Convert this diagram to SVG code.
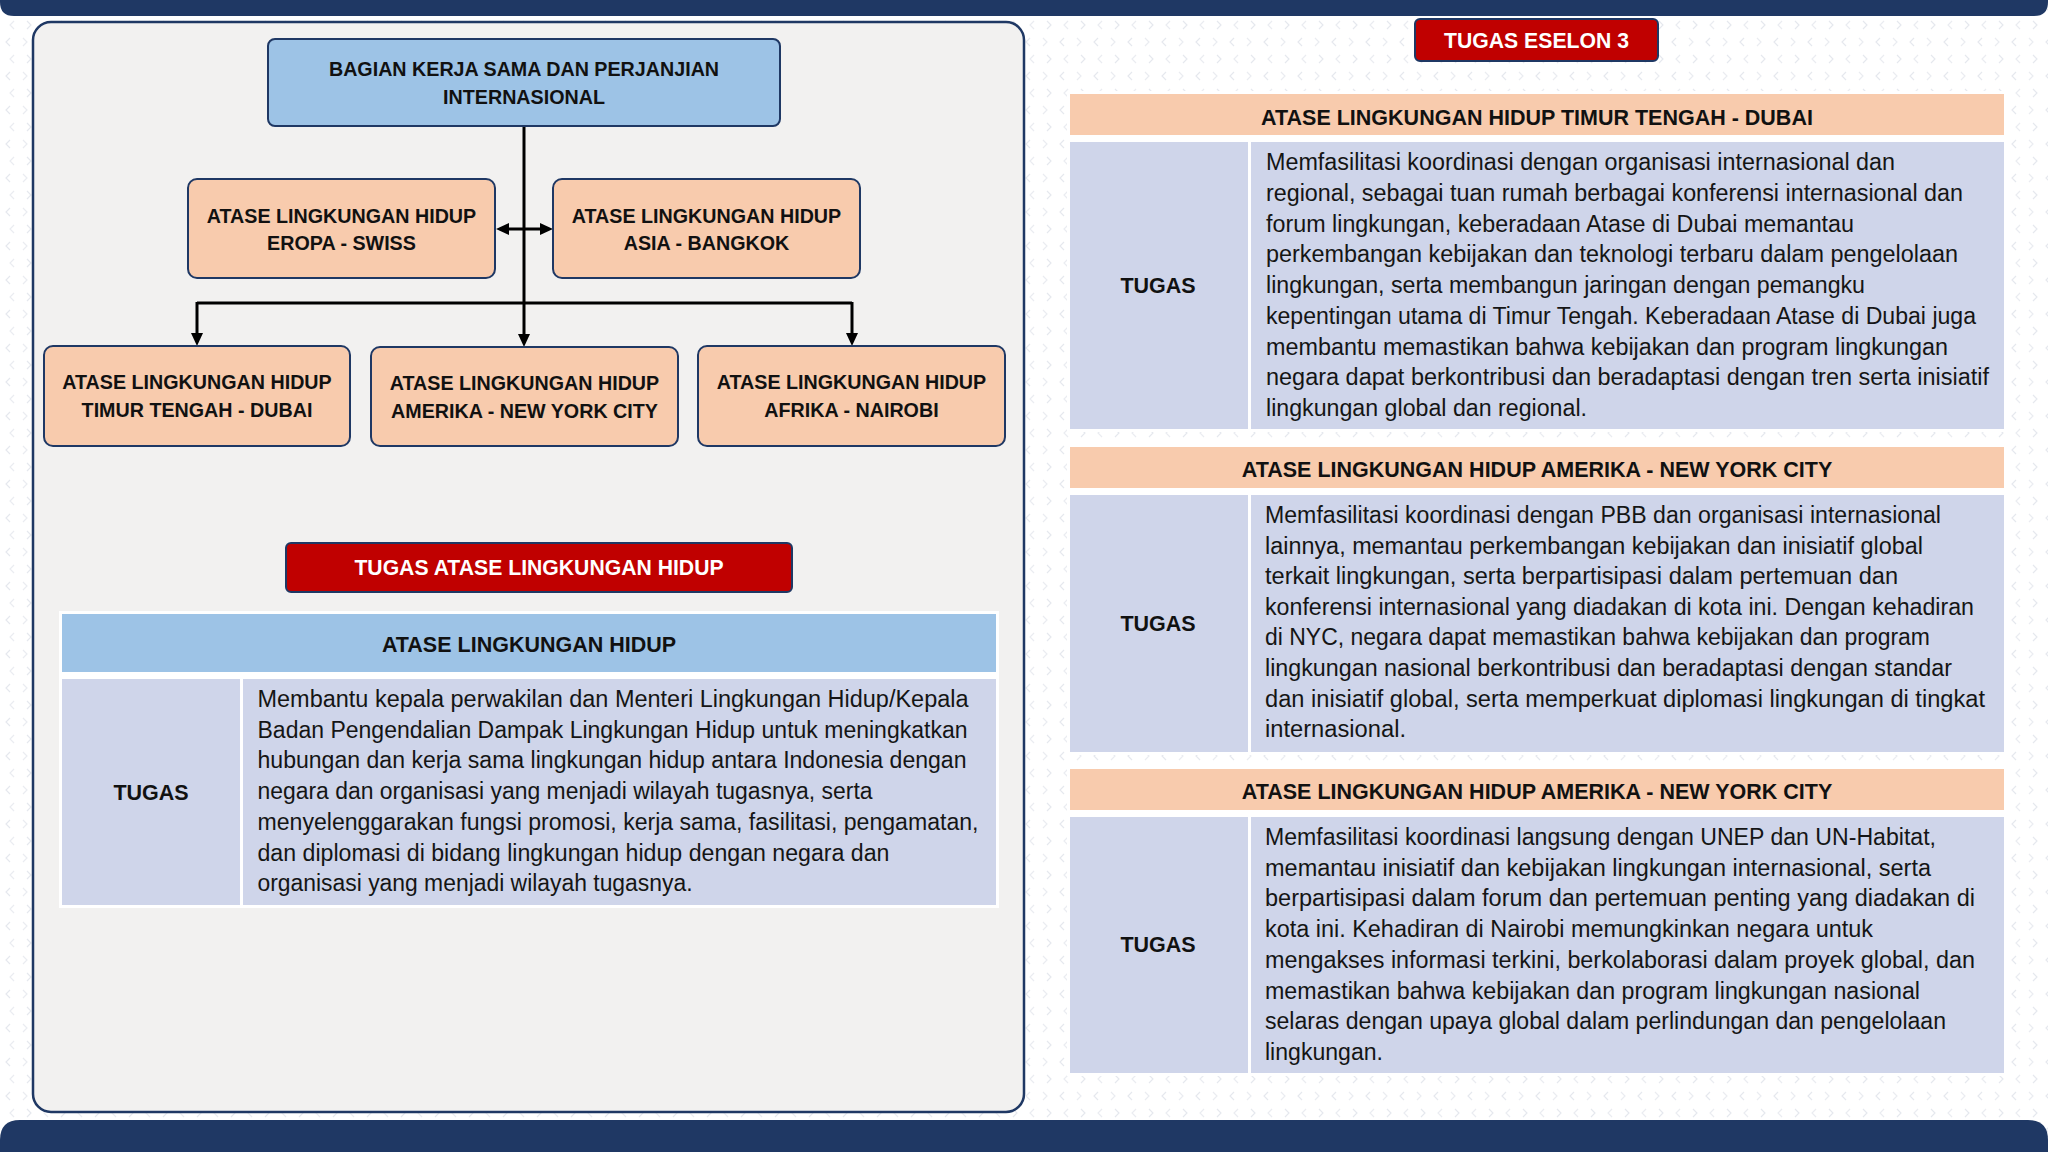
<svg xmlns="http://www.w3.org/2000/svg" width="2048" height="1152" viewBox="0 0 2048 1152">
<defs>
<pattern id="bgp" x="0" y="0" width="34" height="34" patternUnits="userSpaceOnUse">
<rect width="34" height="34" fill="#FFFFFF"/>
<path d="M10,4 L6,8 L10,12 M27,21 L31,25 L27,29" fill="none" stroke="#E5E8EE" stroke-width="1.1"/>
<path d="M23,4 L27,8 L23,12 M14,21 L10,25 L14,29" fill="none" stroke="#EAECF1" stroke-width="1.1"/>
</pattern>
<marker id="ah" viewBox="0 0 13 12" refX="0" refY="6" markerWidth="13" markerHeight="12" markerUnits="userSpaceOnUse" orient="auto-start-reverse">
<path d="M0,0 L13,6 L0,12 Z" fill="#000000"/>
</marker>
</defs>
<style>
.node{fill:#F8CBAD;stroke:#1F3864;stroke-width:2}
.top{fill:#9DC3E6;stroke:#1F3864;stroke-width:2}
.nt{font-family:"Liberation Sans",Arial,sans-serif;font-weight:bold;font-size:19.7px;fill:#111111;text-anchor:middle}
.btn{fill:#C00000;stroke:#1F3864;stroke-width:2}
.bt{font-family:"Liberation Sans",Arial,sans-serif;font-weight:bold;font-size:21.2px;fill:#FFFFFF;text-anchor:middle}
.hd{font-family:"Liberation Sans",Arial,sans-serif;font-weight:bold;font-size:21.5px;fill:#111111;text-anchor:middle}
.body{font-family:"Liberation Sans",Arial,sans-serif;font-size:23px;fill:#151515}
.peach{fill:#F8CBAD}
.blue{fill:#9DC3E6}
.cell{fill:#CFD5EA}
.conn{stroke:#000000;stroke-width:3;fill:none}
.navy{fill:#1F3864}
</style>

<rect width="2048" height="1152" fill="url(#bgp)"/>
<path class="navy" d="M0,0 H2048 V2 Q2048,16 2034,16 H14 Q0,16 0,2 Z"/>
<path class="navy" d="M0,1152 V1140 Q0,1120 20,1120 H2028 Q2048,1120 2048,1140 V1152 Z"/>

<rect id="left-panel" x="33" y="22" width="991" height="1090" rx="18" fill="#F2F1F0" stroke="#1F3864" stroke-width="2.5"/>

<g id="connectors">
<line class="conn" x1="524" y1="126" x2="524" y2="334" marker-end="url(#ah)"/>
<line class="conn" x1="197" y1="303" x2="852" y2="303"/>
<line class="conn" x1="197" y1="302" x2="197" y2="333" marker-end="url(#ah)"/>
<line class="conn" x1="852" y1="302" x2="852" y2="333" marker-end="url(#ah)"/>
<line class="conn" x1="509" y1="229" x2="540" y2="229" marker-start="url(#ah)" marker-end="url(#ah)"/>
</g>

<g id="node-bagian">
<rect class="top" x="268" y="39" width="512" height="87" rx="7"/>
<text class="nt" x="524" y="76">BAGIAN KERJA SAMA DAN PERJANJIAN</text>
<text class="nt" x="524" y="104">INTERNASIONAL</text>
</g>
<g id="node-eropa">
<rect class="node" x="188" y="179" width="307" height="99" rx="9"/>
<text class="nt" x="341.5" y="223">ATASE LINGKUNGAN HIDUP</text>
<text class="nt" x="341.5" y="250">EROPA - SWISS</text>
</g>
<g id="node-asia">
<rect class="node" x="553" y="179" width="307" height="99" rx="9"/>
<text class="nt" x="706.5" y="223">ATASE LINGKUNGAN HIDUP</text>
<text class="nt" x="706.5" y="250">ASIA - BANGKOK</text>
</g>
<g id="node-dubai">
<rect class="node" x="44" y="346" width="306" height="100" rx="9"/>
<text class="nt" x="197" y="389">ATASE LINGKUNGAN HIDUP</text>
<text class="nt" x="197" y="417">TIMUR TENGAH - DUBAI</text>
</g>
<g id="node-nyc">
<rect class="node" x="371" y="347" width="307" height="99" rx="9"/>
<text class="nt" x="524.5" y="390">ATASE LINGKUNGAN HIDUP</text>
<text class="nt" x="524.5" y="418">AMERIKA - NEW YORK CITY</text>
</g>
<g id="node-nairobi">
<rect class="node" x="698" y="346" width="307" height="100" rx="9"/>
<text class="nt" x="851.5" y="389">ATASE LINGKUNGAN HIDUP</text>
<text class="nt" x="851.5" y="417">AFRIKA - NAIROBI</text>
</g>

<g id="btn-tugas-atase">
<rect class="btn" x="286" y="543" width="506" height="49" rx="5"/>
<text class="bt" x="539" y="575">TUGAS ATASE LINGKUNGAN HIDUP</text>
</g>

<g id="table-atase">
<rect x="59" y="611" width="940" height="297" fill="#FFFFFF"/>
<rect class="blue" x="62" y="614" width="934" height="58"/>
<text class="hd" x="529" y="651.5">ATASE LINGKUNGAN HIDUP</text>
<rect class="cell" x="62" y="679" width="178" height="226"/>
<rect class="cell" x="243" y="679" width="753" height="226"/>
<text class="hd" x="151" y="799.5">TUGAS</text>
<text class="body" x="257.5" y="707" textLength="711" lengthAdjust="spacingAndGlyphs">Membantu kepala perwakilan dan Menteri Lingkungan Hidup/Kepala</text>
<text class="body" x="257.5" y="737.7" textLength="710" lengthAdjust="spacingAndGlyphs">Badan Pengendalian Dampak Lingkungan Hidup untuk meningkatkan</text>
<text class="body" x="257.5" y="768.4" textLength="709" lengthAdjust="spacingAndGlyphs">hubungan dan kerja sama lingkungan hidup antara Indonesia dengan</text>
<text class="body" x="257.5" y="799.1" textLength="615" lengthAdjust="spacingAndGlyphs">negara dan organisasi yang menjadi wilayah tugasnya, serta</text>
<text class="body" x="257.5" y="829.8" textLength="721" lengthAdjust="spacingAndGlyphs">menyelenggarakan fungsi promosi, kerja sama, fasilitasi, pengamatan,</text>
<text class="body" x="257.5" y="860.5" textLength="632" lengthAdjust="spacingAndGlyphs">dan diplomasi di bidang lingkungan hidup dengan negara dan</text>
<text class="body" x="257.5" y="891.2" textLength="435" lengthAdjust="spacingAndGlyphs">organisasi yang menjadi wilayah tugasnya.</text>
</g>

<g id="btn-eselon">
<rect class="btn" x="1415" y="19" width="243" height="42" rx="5"/>
<text class="bt" x="1536.5" y="47.5">TUGAS ESELON 3</text>
</g>

<g id="table-dubai">
<rect x="1067" y="91" width="940" height="341" fill="#FFFFFF"/>
<rect class="peach" x="1070" y="94" width="934" height="41"/>
<text class="hd" x="1537" y="124.5">ATASE LINGKUNGAN HIDUP TIMUR TENGAH - DUBAI</text>
<rect class="cell" x="1070" y="142" width="178" height="287"/>
<rect class="cell" x="1251" y="142" width="753" height="287"/>
<text class="hd" x="1158" y="293">TUGAS</text>
<text class="body" x="1266" y="170" textLength="629" lengthAdjust="spacingAndGlyphs">Memfasilitasi koordinasi dengan organisasi internasional dan</text>
<text class="body" x="1266" y="200.75" textLength="697" lengthAdjust="spacingAndGlyphs">regional, sebagai tuan rumah berbagai konferensi internasional dan</text>
<text class="body" x="1266" y="231.5" textLength="588" lengthAdjust="spacingAndGlyphs">forum lingkungan, keberadaan Atase di Dubai memantau</text>
<text class="body" x="1266" y="262.25" textLength="692" lengthAdjust="spacingAndGlyphs">perkembangan kebijakan dan teknologi terbaru dalam pengelolaan</text>
<text class="body" x="1266" y="293" textLength="599" lengthAdjust="spacingAndGlyphs">lingkungan, serta membangun jaringan dengan pemangku</text>
<text class="body" x="1266" y="323.75" textLength="710" lengthAdjust="spacingAndGlyphs">kepentingan utama di Timur Tengah. Keberadaan Atase di Dubai juga</text>
<text class="body" x="1266" y="354.5" textLength="682" lengthAdjust="spacingAndGlyphs">membantu memastikan bahwa kebijakan dan program lingkungan</text>
<text class="body" x="1266" y="385.25" textLength="723" lengthAdjust="spacingAndGlyphs">negara dapat berkontribusi dan beradaptasi dengan tren serta inisiatif</text>
<text class="body" x="1266" y="416" textLength="321" lengthAdjust="spacingAndGlyphs">lingkungan global dan regional.</text>
</g>

<g id="table-nyc">
<rect x="1067" y="444" width="940" height="311" fill="#FFFFFF"/>
<rect class="peach" x="1070" y="447" width="934" height="41"/>
<text class="hd" x="1537" y="476.5">ATASE LINGKUNGAN HIDUP AMERIKA - NEW YORK CITY</text>
<rect class="cell" x="1070" y="495" width="178" height="257"/>
<rect class="cell" x="1251" y="495" width="753" height="257"/>
<text class="hd" x="1158" y="630.5">TUGAS</text>
<text class="body" x="1265" y="523" textLength="676" lengthAdjust="spacingAndGlyphs">Memfasilitasi koordinasi dengan PBB dan organisasi internasional</text>
<text class="body" x="1265" y="553.6" textLength="658" lengthAdjust="spacingAndGlyphs">lainnya, memantau perkembangan kebijakan dan inisiatif global</text>
<text class="body" x="1265" y="584.2" textLength="633" lengthAdjust="spacingAndGlyphs">terkait lingkungan, serta berpartisipasi dalam pertemuan dan</text>
<text class="body" x="1265" y="614.8" textLength="709" lengthAdjust="spacingAndGlyphs">konferensi internasional yang diadakan di kota ini. Dengan kehadiran</text>
<text class="body" x="1265" y="645.4" textLength="665" lengthAdjust="spacingAndGlyphs">di NYC, negara dapat memastikan bahwa kebijakan dan program</text>
<text class="body" x="1265" y="676" textLength="687" lengthAdjust="spacingAndGlyphs">lingkungan nasional berkontribusi dan beradaptasi dengan standar</text>
<text class="body" x="1265" y="706.6" textLength="720" lengthAdjust="spacingAndGlyphs">dan inisiatif global, serta memperkuat diplomasi lingkungan di tingkat</text>
<text class="body" x="1265" y="737.2" textLength="141" lengthAdjust="spacingAndGlyphs">internasional.</text>
</g>

<g id="table-nairobi">
<rect x="1067" y="766" width="940" height="310" fill="#FFFFFF"/>
<rect class="peach" x="1070" y="769" width="934" height="41"/>
<text class="hd" x="1537" y="798.5">ATASE LINGKUNGAN HIDUP AMERIKA - NEW YORK CITY</text>
<rect class="cell" x="1070" y="817" width="178" height="256"/>
<rect class="cell" x="1251" y="817" width="753" height="256"/>
<text class="hd" x="1158" y="951.5">TUGAS</text>
<text class="body" x="1265" y="845" textLength="671" lengthAdjust="spacingAndGlyphs">Memfasilitasi koordinasi langsung dengan UNEP dan UN-Habitat,</text>
<text class="body" x="1265" y="875.7" textLength="666" lengthAdjust="spacingAndGlyphs">memantau inisiatif dan kebijakan lingkungan internasional, serta</text>
<text class="body" x="1265" y="906.4" textLength="710" lengthAdjust="spacingAndGlyphs">berpartisipasi dalam forum dan pertemuan penting yang diadakan di</text>
<text class="body" x="1265" y="937.1" textLength="608" lengthAdjust="spacingAndGlyphs">kota ini. Kehadiran di Nairobi memungkinkan negara untuk</text>
<text class="body" x="1265" y="967.8" textLength="710" lengthAdjust="spacingAndGlyphs">mengakses informasi terkini, berkolaborasi dalam proyek global, dan</text>
<text class="body" x="1265" y="998.5" textLength="655" lengthAdjust="spacingAndGlyphs">memastikan bahwa kebijakan dan program lingkungan nasional</text>
<text class="body" x="1265" y="1029.2" textLength="681" lengthAdjust="spacingAndGlyphs">selaras dengan upaya global dalam perlindungan dan pengelolaan</text>
<text class="body" x="1265" y="1059.9" textLength="118" lengthAdjust="spacingAndGlyphs">lingkungan.</text>
</g>
</svg>
